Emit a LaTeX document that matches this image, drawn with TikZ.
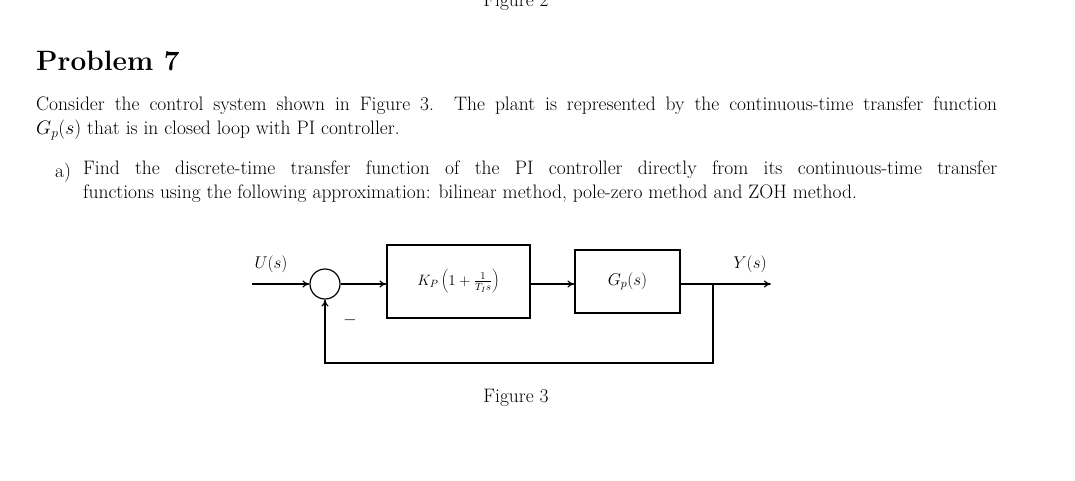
\RequirePackage{fix-cm}
\documentclass[tikz,border=0pt]{standalone}
\usepackage{fontspec}
\usetikzlibrary{arrows.meta}
\begin{document}
\begin{tikzpicture}[x=1pt,y=-1pt,
  blk/.style={draw,line width=1.2pt,inner sep=0pt},
  sig/.style={line width=1.2pt,-{To[length=7pt,width=7pt]}},
  wire/.style={line width=1.2pt},
  body/.style={anchor=north west,inner sep=0pt,font=\fontsize{19.5}{24}\selectfont,align=justify}]
\useasboundingbox (0,0) rectangle (1075,480);
\node[font=\fontsize{19.5}{24}\selectfont,anchor=base] (fig2) at (516,6) {Figure 2};
\node[anchor=base west,inner sep=0pt,font=\fontsize{28}{32}\selectfont\bfseries] (title) at (36,70) {Problem 7};
\node[body,text width=961pt] (p1) at (36,97) {Consider the control system shown in Figure 3. The plant is represented by the continuous-time transfer function\linebreak $G_p(s)$ that is in closed loop with PI controller.};
\node[anchor=base west,inner sep=0pt,font=\fontsize{19.5}{24}\selectfont] (a) at (55,177) {a)};
\node[body,text width=914pt] (p2) at (83,161) {Find the discrete-time transfer function of the PI controller directly from its continuous-time transfer\linebreak functions using the following approximation: bilinear method, pole-zero method and ZOH method.};
% diagram
\coordinate (in) at (252,284);
\node[draw,circle,line width=1.2pt,minimum size=30pt,inner sep=0pt] (sum) at (325,284) {};
\node[blk,minimum width=143pt,minimum height=73pt] (pi) at (458.5,281.5) {\fontsize{15}{18}\selectfont $K_P\left(1+\frac{1}{T_I s}\right)$};
\node[blk,minimum width=105pt,minimum height=63pt] (gp) at (627.5,281.5) {\fontsize{17}{20}\selectfont $G_p(s)$};
\coordinate (br) at (713,284);
\coordinate (out) at (771,284);
\node[font=\fontsize{17}{20}\selectfont] (ul) at (271,264) {$U(s)$};
\node[font=\fontsize{17}{20}\selectfont] (yl) at (750,264) {$Y(s)$};
\node[font=\fontsize{17}{20}\selectfont] (minus) at (350,320) {$-$};
\draw[sig] (in) -- (sum.west);
\draw[sig] (sum.east) -- (pi.west |- sum.east);
\draw[sig] (pi.east |- sum.east) -- (gp.west |- sum.east);
\draw[wire] (gp.east |- br) -- (br);
\draw[sig] (br) -- (out);
\draw[sig] (br) -- (713,363) -- (325,363) -- (sum.south);
\node[font=\fontsize{19.5}{24}\selectfont] (cap) at (516,398) {Figure 3};
\end{tikzpicture}
\end{document}
